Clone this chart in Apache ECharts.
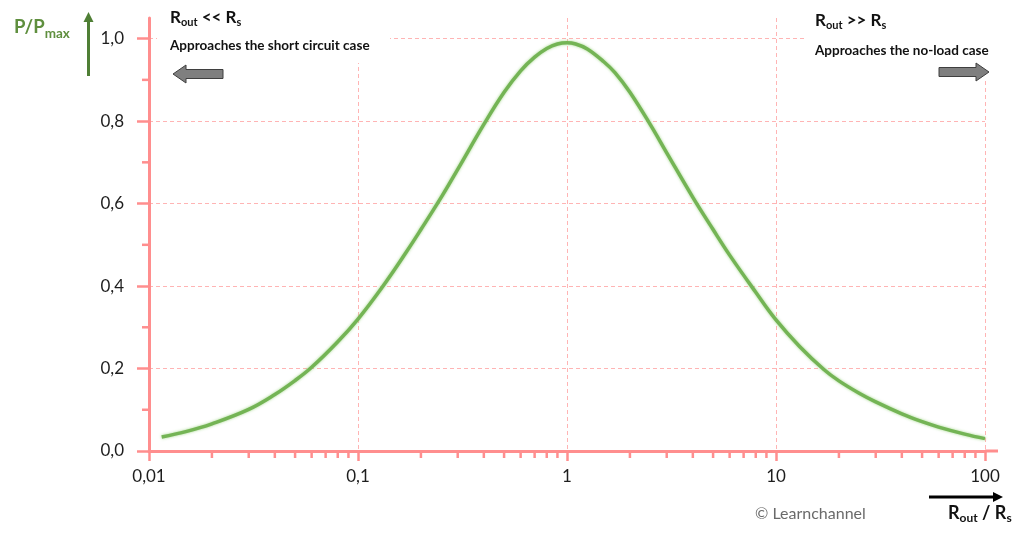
<!DOCTYPE html>
<html><head><meta charset="utf-8">
<script src="https://cdn.jsdelivr.net/npm/echarts@6/dist/echarts.min.js"></script>
<style>html,body{margin:0;padding:0;background:#fff}#c{width:1024px;height:535px}</style>
</head><body><div id="c"></div>
<script>
// Ratio R_out / R_s (x) and P/Pmax (y)
const ratio = [0.0115,0.015,0.02,0.03,0.04,0.05,0.06,0.08,0.1,0.13,0.17,0.2,0.25,0.3,0.4,0.5,0.6,0.7,0.8,0.9,1,1.1,1.25,1.5,1.7,2,2.5,3,4,5,6,8,10,13,17,20,25,30,40,50,60,80,100];
const power = [0.034,0.047,0.066,0.101,0.137,0.171,0.203,0.265,0.320,0.396,0.482,0.537,0.615,0.683,0.792,0.870,0.922,0.955,0.976,0.987,0.990,0.987,0.975,0.944,0.917,0.870,0.792,0.723,0.615,0.537,0.475,0.385,0.318,0.253,0.197,0.170,0.140,0.119,0.090,0.071,0.058,0.041,0.030];
const yTickValues = [0,0.2,0.4,0.6,0.8,1.0];
const yMinorTickValues = [0.1,0.3,0.5,0.7,0.9];
const xMinorTickValues = [0.02,0.03,0.04,0.05,0.06,0.07,0.08,0.09,0.2,0.3,0.4,0.5,0.6,0.7,0.8,0.9,2,3,4,5,6,7,8,9,20,30,40,50,60,70,80,90];

const AX = '#ff8e8e', GRIDC = '#ffb4b4', FONT = 'Lato, "Noto Sans", sans-serif';
const chart = echarts.init(document.getElementById('c'));
const fmtNum = v => String(parseFloat(Number(v).toPrecision(6))).replace('.', ',');

chart.setOption({
  animation: false,
  textStyle: {fontFamily: FONT},
  grid: {left: 149, right: 39, top: 18, bottom: 84, containLabel: false},
  xAxis: {
    type: 'log', logBase: 10, min: 0.01, max: 100,
    axisLine: {show: true, lineStyle: {color: AX, width: 3}},
    axisTick: {show: true, length: 10, lineStyle: {color: AX, width: 2.5}},
    axisLabel: {margin: 17, fontSize: 17, color: '#1e1e1e', fontFamily: FONT, formatter: v => fmtNum(v)},
    splitLine: {show: true, lineStyle: {color: GRIDC, width: 1, type: [4, 3]}},
    minorTick: {show: false}
  },
  yAxis: {
    type: 'value', min: 0, max: 1.05, interval: 0.2,
    axisLine: {show: true, onZero: false, lineStyle: {color: AX, width: 3}},
    axisTick: {show: true, length: 12, customValues: yTickValues, lineStyle: {color: AX, width: 2.5}},
    axisLabel: {margin: 25, fontSize: 17, color: '#1e1e1e', fontFamily: FONT, customValues: yTickValues,
      formatter: v => Number(v).toFixed(1).replace('.', ',')},
    splitLine: {show: true, lineStyle: {color: GRIDC, width: 1, type: [4, 3]}}
  },
  series: [
    {
      type: 'line', data: ratio.map((r, i) => [r, power[i]]), smooth: 0.4, showSymbol: false, z: 5,
      lineStyle: {color: '#74b455', width: 3.5, shadowColor: 'rgba(140,205,110,0.8)', shadowBlur: 3}
    },
    {
      type: 'custom', silent: true, z: 4, clip: false,
      data: xMinorTickValues.map(v => [v, 0]),
      renderItem: (params, api) => {
        const p = api.coord([api.value(0), 0]);
        return {type: 'line', shape: {x1: p[0], y1: p[1], x2: p[0], y2: p[1] + 7}, style: {stroke: AX, lineWidth: 2.5}};
      }
    },
    {
      type: 'custom', silent: true, z: 4, clip: false,
      data: yMinorTickValues.map(v => [0.01, v]),
      renderItem: (params, api) => {
        const p = api.coord([0.01, api.value(1)]);
        return {type: 'line', shape: {x1: p[0] - 7, y1: p[1], x2: p[0], y2: p[1]}, style: {stroke: AX, lineWidth: 2.5}};
      }
    }
  ],
  graphic: [
    {type: 'line', z: 50, shape: {x1: 985, y1: 451, x2: 998, y2: 451}, style: {stroke: AX, lineWidth: 3}},
    {type: 'rect', z: 50, shape: {x: 157, y: 0, width: 233, height: 63}, style: {fill: '#fff'}},
    {type: 'rect', z: 50, shape: {x: 806, y: 0, width: 200, height: 80}, style: {fill: '#fff'}},
    {type: 'text', z: 60, left: 170, top: 9, style: {
      rich: {
        m: {fontSize: 17, fontWeight: 'bold', fontFamily: FONT, fill: '#111', verticalAlign: 'bottom', padding: [0,0,2,0]},
        s: {fontSize: 11, fontWeight: 'bold', fontFamily: FONT, fill: '#111', verticalAlign: 'bottom'}
      },
      text: '{m|R}{s|out}{m| << R}{s|s}'}},
    {type: 'text', z: 60, left: 170, top: 39, style: {text: 'Approaches the short circuit case', fontSize: 13.5, fontWeight: 'bold', fontFamily: FONT, fill: '#111'}},
    {type: 'polygon', z: 60, shape: {points: [[173,74],[186,65],[186,69.5],[223,69.5],[223,78.5],[186,78.5],[186,83]]}, style: {fill: '#7f7f7f', stroke: '#3f3f3f', lineWidth: 1}},
    {type: 'text', z: 60, left: 815, top: 12, style: {
      rich: {
        m: {fontSize: 17, fontWeight: 'bold', fontFamily: FONT, fill: '#111', verticalAlign: 'bottom', padding: [0,0,2,0]},
        s: {fontSize: 11, fontWeight: 'bold', fontFamily: FONT, fill: '#111', verticalAlign: 'bottom'}
      },
      text: '{m|R}{s|out}{m| >> R}{s|s}'}},
    {type: 'text', z: 60, left: 815, top: 44, style: {text: 'Approaches the no-load case', fontSize: 13.5, fontWeight: 'bold', fontFamily: FONT, fill: '#111'}},
    {type: 'polygon', z: 60, shape: {points: [[989,72],[976,63],[976,67.5],[939,67.5],[939,76.5],[976,76.5],[976,81]]}, style: {fill: '#7f7f7f', stroke: '#3f3f3f', lineWidth: 1}},
    {type: 'text', z: 60, left: 14, top: 18, style: {
      rich: {
        m: {fontSize: 18.5, fontWeight: 'bold', fontFamily: FONT, fill: '#5f8f3e', verticalAlign: 'bottom', padding: [0,0,4,0]},
        s: {fontSize: 13.5, fontWeight: 'bold', fontFamily: FONT, fill: '#5f8f3e', verticalAlign: 'bottom'}
      },
      text: '{m|P/P}{s|max}'}},
    {type: 'line', z: 60, shape: {x1: 88.5, y1: 76, x2: 88.5, y2: 20}, style: {stroke: '#4f7f35', lineWidth: 3}},
    {type: 'polygon', z: 60, shape: {points: [[88.5,12],[83.5,22],[93.5,22]]}, style: {fill: '#4f7f35'}},
    {type: 'line', z: 60, shape: {x1: 929, y1: 497, x2: 994, y2: 497}, style: {stroke: '#000', lineWidth: 3}},
    {type: 'polygon', z: 60, shape: {points: [[1003,497],[993,492],[993,502]]}, style: {fill: '#000'}},
    {type: 'text', z: 60, left: 948, top: 504, style: {
      rich: {
        m: {fontSize: 18, fontWeight: 'bold', fontFamily: FONT, fill: '#111', verticalAlign: 'bottom', padding: [0,0,2,0]},
        s: {fontSize: 12, fontWeight: 'bold', fontFamily: FONT, fill: '#111', verticalAlign: 'bottom'}
      },
      text: '{m|R}{s|out}{m| / R}{s|s}'}},
    {type: 'text', z: 60, left: 755, top: 506, style: {text: '\u00a9 Learnchannel', fontSize: 16, fontFamily: FONT, fill: '#6a6a6a'}}
  ]
});
</script></body></html>
